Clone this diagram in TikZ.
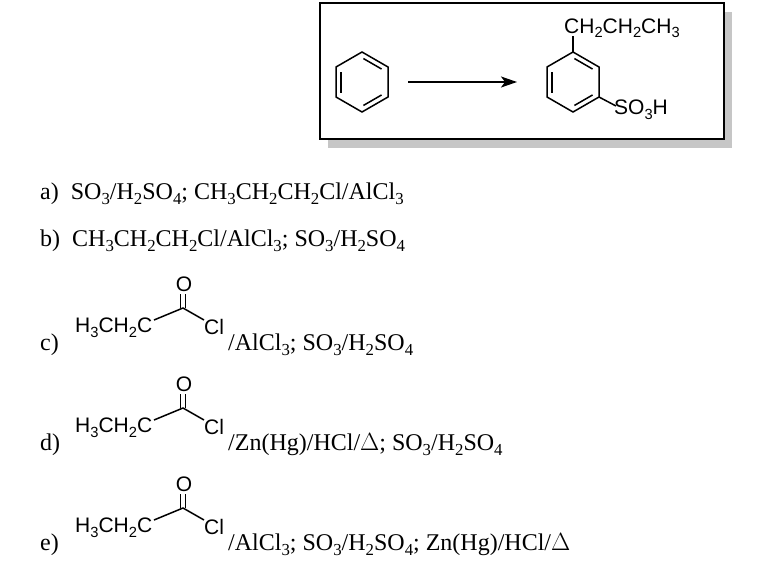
\documentclass[tikz,border=0pt]{standalone}
\usepackage{fontspec}
\setmainfont{Liberation Serif}
\newfontfamily\chem{Liberation Sans}
\usetikzlibrary{calc,arrows.meta}
\newcommand{\sbs}[1]{\raisebox{-0.22em}{\fontsize{0.7em}{1em}\selectfont #1}}
\begin{document}
\begin{tikzpicture}[x=1pt,y=-1pt,
  bond/.style={line width=1.5pt},
  lab/.style={font=\chem\fontsize{21}{24}\selectfont, inner sep=0pt},
  txt/.style={font=\fontsize{24}{28}\selectfont, inner sep=0pt, anchor=base west}]
\useasboundingbox (0,0) rectangle (770,578);
% box with shadow
\fill[gray!45] (328,12) rectangle (732,148);
\node[draw, line width=1.8pt, fill=white, minimum width=404pt, minimum height=136pt, inner sep=0pt] (box) at (522,71) {};
% benzene
\foreach \c/\n in {362/A,573/B}{
  \coordinate (\n0) at (\c,52);
  \coordinate (\n1) at (\c+26,67);
  \coordinate (\n2) at (\c+26,97);
  \coordinate (\n3) at (\c,112);
  \coordinate (\n4) at (\c-26,97);
  \coordinate (\n5) at (\c-26,67);
  \draw[bond] (\n0)--(\n1)--(\n2)--(\n3)--(\n4)--(\n5)--cycle;
  \draw[bond] ($(\n0)!0.15!(\n1)+(-2.5,4.3)$) -- ($(\n0)!0.85!(\n1)+(-2.5,4.3)$);
  \draw[bond] ($(\n2)!0.15!(\n3)+(-2.5,-4.3)$) -- ($(\n2)!0.85!(\n3)+(-2.5,-4.3)$);
  \draw[bond] ($(\n4)!0.15!(\n5)+(5,0)$) -- ($(\n4)!0.85!(\n5)+(5,0)$);
}
\coordinate (a1) at (408,82);
\coordinate (a2) at (517,82);
\draw[line width=1.5pt,-{Stealth[length=16pt,width=11pt,inset=4pt]}] (a1) -- (a2);
\node[lab, anchor=south west] (pr) at (564,38) {CH\sbs{2}CH\sbs{2}CH\sbs{3}};
\draw[bond] (B0) -- (573,36);
\node[lab, anchor=north west] (so) at (614,100) {SO\sbs{3}H};
\draw[bond] (B2) -- (616,106);
% options
\node[txt] (a) at (40,199) {a)\enspace SO\sbs{3}/H\sbs{2}SO\sbs{4}; CH\sbs{3}CH\sbs{2}CH\sbs{2}Cl/AlCl\sbs{3}};
\node[txt] (b) at (40,246) {b)\enspace CH\sbs{3}CH\sbs{2}CH\sbs{2}Cl/AlCl\sbs{3}; SO\sbs{3}/H\sbs{2}SO\sbs{4}};
\foreach \y/\l/\r in {0/c/{/AlCl\sbs{3}; SO\sbs{3}/H\sbs{2}SO\sbs{4}},
                      100/d/{/Zn(Hg)/HCl/$\Delta$; SO\sbs{3}/H\sbs{2}SO\sbs{4}},
                      200/e/{/AlCl\sbs{3}; SO\sbs{3}/H\sbs{2}SO\sbs{4}; Zn(Hg)/HCl/$\Delta$}}{
  \node[txt] (l\l) at (40,350+\y) {\l)};
  \node[lab, anchor=west] (h\l) at (75,328+\y) {H\sbs{3}CH\sbs{2}C};
  \coordinate (k\l) at (183,308+\y);
  \node[lab] (o\l) at (184,284+\y) {O};
  \node[lab, anchor=west] (cl\l) at (204,327+\y) {Cl};
  \draw[bond] (154,320+\y) -- (k\l) -- (204,320+\y);
  \draw[bond] (180.5,308+\y) -- (180.5,294+\y);
  \draw[bond] (185.5,308+\y) -- (185.5,294+\y);
  \node[txt] (r\l) at (228,350+\y) {\r};
}
\end{tikzpicture}
\end{document}
